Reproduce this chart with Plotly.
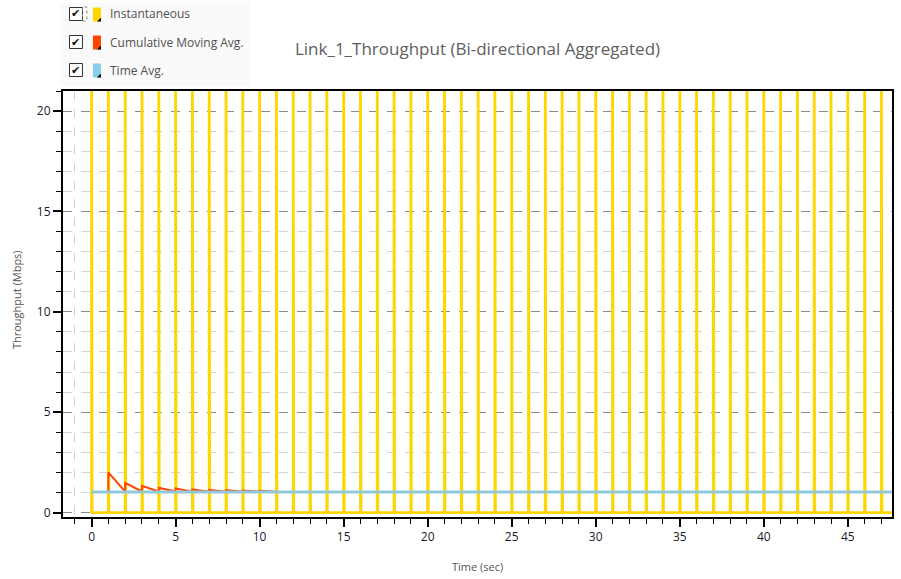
import plotly.graph_objects as go

# ---------------- data ----------------
spike_times = [0, 1, 2, 3, 4, 5, 6, 7, 8, 9, 10, 11, 12, 13, 14, 15, 16, 17, 18, 19,
               20, 21, 22, 23, 24, 25, 26, 27, 28, 29, 30, 31, 32, 33, 34, 35, 36, 37,
               38, 39, 40, 41, 42, 43, 44, 45, 46, 47]
spike_peak = 23.0        # instantaneous burst value (beyond visible range)
spike_base = 0.0         # instantaneous value between bursts
series_end = 48.0

cma_times = [1, 1, 2, 2, 3, 3, 4, 4, 5, 5, 6, 6, 7, 7, 8, 8, 9, 9, 10, 10, 11]
cma_values = [1.05, 2.0, 1.04, 1.48, 1.05, 1.33, 1.05, 1.24, 1.05, 1.2, 1.04, 1.15,
              1.04, 1.13, 1.04, 1.12, 1.04, 1.1, 1.04, 1.09, 1.04]

time_avg_times = [0, 48]
time_avg_values = [1.03, 1.03]

x_tick_vals = [0, 5, 10, 15, 20, 25, 30, 35, 40, 45]
y_tick_vals = [0, 5, 10, 15, 20]

legend_labels = ["Instantaneous", "Cumulative Moving Avg.", "Time Avg."]
legend_colors = ["#FFD700", "#FF4500", "#87CEEB"]

# build the instantaneous step series from burst times
inst_x, inst_y = [], []
for t in spike_times:
    inst_x += [t, t, t + 0.03, t + 0.03]
    inst_y += [spike_base, spike_peak, spike_peak, spike_base]
inst_x.append(series_end)
inst_y.append(spike_base)

# ---------------- figure ----------------
W, H = 901, 579
L, R, T, B = 63, 894, 91, 517

fig = go.Figure()
fig.add_trace(go.Scatter(x=inst_x, y=inst_y, mode="lines", name=legend_labels[0],
                         line=dict(color="#FFD700", width=2.8), hoverinfo="skip"))
fig.add_trace(go.Scatter(x=cma_times, y=cma_values, mode="lines", name=legend_labels[1],
                         line=dict(color="#FF4500", width=2)))
fig.add_trace(go.Scatter(x=time_avg_times, y=time_avg_values, mode="lines", name=legend_labels[2],
                         line=dict(color="#92C8DC", width=3)))

def px(x):
    return (x - L) / (R - L)

def py(y):
    return (B - y) / (B - T)

shapes = []
annotations = []

# legend panel background
shapes.append(dict(type="rect", xref="paper", yref="paper",
                   x0=px(60), x1=px(250), y0=py(86), y1=py(3),
                   fillcolor="#FAFAFA", line=dict(width=0), layer="below"))

row_y = [14, 42, 70]
for i, (lab, col) in enumerate(zip(legend_labels, legend_colors)):
    cy = row_y[i]
    # checkbox
    shapes.append(dict(type="rect", xref="paper", yref="paper",
                       x0=px(69.5), x1=px(82.5), y0=py(cy + 6.5), y1=py(cy - 6.5),
                       fillcolor="white", line=dict(color="#333333", width=1)))
    annotations.append(dict(x=px(76), y=py(cy), xref="paper", yref="paper",
                            text="✔", showarrow=False, xanchor="center", yanchor="middle",
                            font=dict(family="DejaVu Sans", size=11, color="#111111")))
    # colour swatch
    shapes.append(dict(type="rect", xref="paper", yref="paper",
                       x0=px(93), x1=px(101), y0=py(cy + 7.5), y1=py(cy - 6.5),
                       fillcolor=col, line=dict(width=0)))
    shapes.append(dict(type="path", xref="paper", yref="paper",
                       path=f"M {px(97)},{py(cy + 7.5)} L {px(101)},{py(cy + 7.5)} L {px(101)},{py(cy + 3.5)} Z",
                       fillcolor="black", line=dict(width=0)))
    annotations.append(dict(x=px(108), y=py(cy), xref="paper", yref="paper",
                            text=lab, showarrow=False, xanchor="left", yanchor="middle",
                            font=dict(family="Open Sans", size=12, color="#505050")))

# focus rectangle next to first checkbox
shapes.append(dict(type="rect", xref="paper", yref="paper",
                   x0=px(82.5), x1=px(87), y0=py(21), y1=py(7),
                   line=dict(color="#888888", width=1, dash="dot")))

# axis titles
annotations.append(dict(x=px(16), y=py(300), xref="paper", yref="paper",
                        text="Throughput (Mbps)", showarrow=False, textangle=-90,
                        xanchor="center", yanchor="middle",
                        font=dict(family="Open Sans", size=11, color="#555555")))
annotations.append(dict(x=px(478), y=py(566), xref="paper", yref="paper",
                        text="Time (sec)", showarrow=False,
                        xanchor="center", yanchor="middle",
                        font=dict(family="Open Sans", size=11, color="#555555")))

fig.update_layout(
    width=W, height=H,
    margin=dict(l=L, r=W - R, t=T, b=H - B),
    paper_bgcolor="white", plot_bgcolor="white",
    showlegend=False,
    title=dict(text="Link_1_Throughput (Bi-directional Aggregated)",
               x=px(478.5), xref="paper", xanchor="center",
               y=1 - 49 / H, yref="container", yanchor="middle",
               font=dict(family="Open Sans", size=17, color="#606060")),
    shapes=shapes,
    annotations=annotations,
)

fig.update_xaxes(
    range=[-1.70, 47.63],
    tickvals=x_tick_vals, ticks="outside", ticklen=8, tickwidth=1.5, tickcolor="black",
    showline=True, linecolor="black", linewidth=2, mirror=True,
    showgrid=True, gridcolor="#8A8A8A", griddash="dash", gridwidth=1,
    zeroline=False,
    tickfont=dict(family="Open Sans", size=12, color="#1a1a2e"),
    minor=dict(dtick=1, tick0=0, ticks="outside", ticklen=5, tickwidth=1, tickcolor="black",
               showgrid=True, gridcolor="#D3D3D3", griddash="dash", gridwidth=1),
)
fig.update_yaxes(
    range=[-0.22, 21.0],
    tickvals=y_tick_vals, ticks="outside", ticklen=8, tickwidth=1.5, tickcolor="black",
    showline=True, linecolor="black", linewidth=2, mirror=True,
    showgrid=True, gridcolor="#8A8A8A", griddash="dash", gridwidth=1,
    zeroline=False,
    tickfont=dict(family="Open Sans", size=12, color="#1a1a2e"),
    minor=dict(dtick=1, tick0=0, ticks="outside", ticklen=5, tickwidth=1, tickcolor="black",
               showgrid=True, gridcolor="#D3D3D3", griddash="dash", gridwidth=1),
)

fig.write_html("out.html", config={"displayModeBar": False},
               post_script="document.body.style.margin='0';document.body.style.overflow='hidden';")
